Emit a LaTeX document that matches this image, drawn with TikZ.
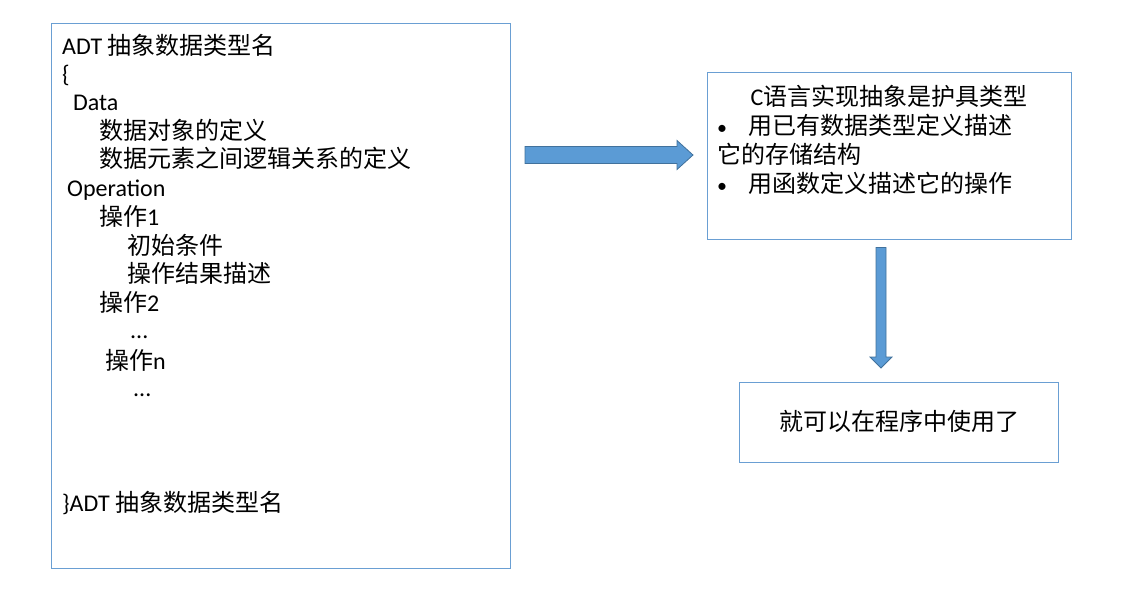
\documentclass[tikz,border=0pt]{standalone}
\usepackage{fontspec}
\setmainfont{Carlito}
\newfontfamily\cjk{Noto Sans CJK SC}
\newcommand{\zh}[1]{{\cjk #1}}
\definecolor{boxline}{HTML}{6A9FD3}
\definecolor{arrfill}{HTML}{5B9BD5}
\definecolor{arrline}{HTML}{41719C}
\begin{document}
\begin{tikzpicture}[x=1pt,y=-1pt,
  txt/.style={anchor=base west,inner sep=0pt,font=\fontsize{24}{28}\selectfont},
  ctxt/.style={anchor=base,inner sep=0pt,font=\fontsize{24}{28}\selectfont},
  frame/.style={draw=boxline,line width=1pt},
  blockarrow/.style={fill=arrfill,draw=arrline,line width=0.8pt}]
\useasboundingbox (0,0) rectangle (1145,590);
% boxes
\draw[frame] (51.5,23.5) rectangle (510.5,568.5);
\draw[frame] (707.5,72.5) rectangle (1071.5,239.5);
\draw[frame] (739.5,382.5) rectangle (1058.5,462.5);
% left text
\node[txt] (t1) at (62,54) {ADT \zh{抽象数据类型名}};
\node[txt] (t2) at (62,82.7) {\{};
\node[txt] (t3) at (73,110) {Data};
\node[txt] (t4) at (99,139) {\zh{数据对象的定义}};
\node[txt] (t5) at (99,167.8) {\zh{数据元素之间逻辑关系的定义}};
\node[txt] (t6) at (67,196) {Operation};
\node[txt] (t7) at (99,225) {\zh{操作}1};
\node[txt] (t8) at (127,254) {\zh{初始条件}};
\node[txt] (t9) at (127,282.6) {\zh{操作结果描述}};
\node[txt] (t10) at (99,311) {\zh{操作}2};
\node[txt] (t11) at (130,338) {...};
\node[txt] (t12) at (105,369) {\zh{操作}n};
\node[txt] (t13) at (133,396) {...};
\node[txt] (t14) at (62,511) {\}ADT \zh{抽象数据类型名}};
% right top text
\node[ctxt] (r1) at (889,105) {C\zh{语言实现抽象是护具类型}};
\node[txt] (r2b) at (717,134) {\fontsize{20}{24}\selectfont •};
\node[txt] (r2) at (748,134) {\zh{用已有数据类型定义描述}};
\node[txt] (r3) at (717,163) {\zh{它的存储结构}};
\node[txt] (r4b) at (717,192) {\fontsize{20}{24}\selectfont •};
\node[txt] (r4) at (748,192) {\zh{用函数定义描述它的操作}};
% bottom text
\node[ctxt] (b1) at (899,430) {\zh{就可以在程序中使用了}};
% right arrow
\draw[blockarrow] (525,146.5) -- (677,146.5) -- (677,140.5) -- (693,155) -- (677,169.5) -- (677,163.5) -- (525,163.5) -- cycle;
% down arrow
\draw[blockarrow] (876,247.5) -- (886,247.5) -- (886,357) -- (892,357) -- (881,368) -- (870,357) -- (876,357) -- cycle;
\end{tikzpicture}
\end{document}
